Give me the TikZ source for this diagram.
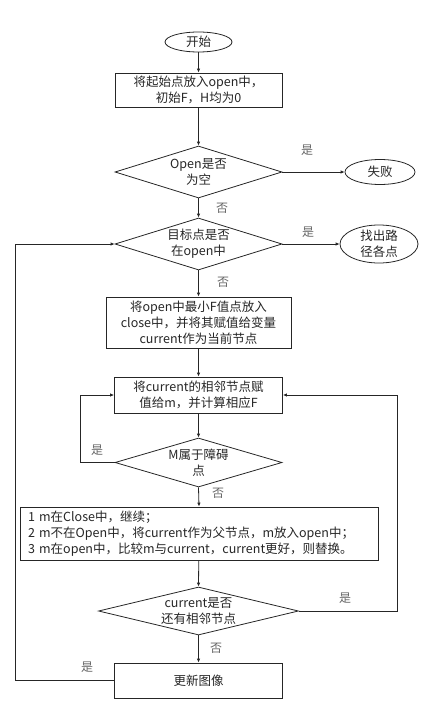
\documentclass[tikz,border=0pt]{standalone}
\usepackage{fontspec}
\setmainfont{Noto Sans CJK SC}
\usetikzlibrary{shapes.geometric,arrows.meta}
\tikzset{
  base/.style={draw=black!85, line width=0.8pt, text=black!85, font=\fontsize{12.5}{16}\selectfont, inner sep=0pt},
  term/.style={base, ellipse},
  procbox/.style={base, rectangle, align=center},
  decision/.style={base, diamond, align=center},
  conn/.style={draw=black!85, line width=0.8pt, -{Latex[length=4pt,width=3.5pt]}},
  yn/.style={text=black!60, font=\fontsize{12}{14}\selectfont, inner sep=0pt}
}
\begin{document}
\begin{tikzpicture}[x=1pt,y=-1pt]
\useasboundingbox (0,0) rectangle (429,706);
\node[term, minimum width=67pt, minimum height=20pt] (start) at (198.5,42) {开始};
\node[procbox, minimum width=167pt, minimum height=34pt] (b1) at (198.5,90) {将起始点放入open中，\\初始F，H均为0};
\node[decision, aspect=3.2, minimum width=167pt, minimum height=52pt] (d1) at (198.5,172) {Open是否\\为空};
\node[term, minimum width=70pt, minimum height=25pt] (fail) at (380,172) {失败};
\node[decision, aspect=3.2, minimum width=167pt, minimum height=52pt] (d2) at (198.5,244) {目标点是否\\在open中};
\node[term, minimum width=78pt, minimum height=38pt, label={[base, draw=none, align=center]center:找出路\\径各点}] (found) at (379,244) {};
\node[procbox, minimum width=185pt, minimum height=51pt] (b3) at (198.5,322.5) {将open中最小F值点放入\\close中，并将其赋值给变量\\current作为当前节点};
\node[procbox, minimum width=168pt, minimum height=36pt] (b4) at (198.5,395) {将current的相邻节点赋\\值给m，并计算相应F};
\node[decision, aspect=3.4, minimum width=167pt, minimum height=49pt] (d3) at (198.5,462.5) {M属于障碍\\点};
\node[base, rectangle, align=left, text width=342pt, inner xsep=8pt, minimum width=358pt, minimum height=53pt] (b5) at (199,533.5) {1 m在Close中，继续；\\2 m不在Open中，将current作为父节点，m放入open中；\\3 m在open中，比较m与current，current更好，则替换。};
\node[decision, aspect=4.17, minimum width=200pt, minimum height=48pt] (d4) at (198.5,611) {current是否\\还有相邻节点};
\node[procbox, minimum width=168pt, minimum height=35pt] (b6) at (198.5,680.5) {更新图像};
\coordinate (lx) at (80,0);
\coordinate (rx) at (397,0);
\coordinate (llx) at (15,0);
\draw[conn] (start) -- (b1);
\draw[conn] (b1) -- (d1);
\draw[conn] (d1.east) -- (fail.west);
\draw[conn] (d1.south) -- (d2.north);
\draw[conn] (d2.east) -- (found.west);
\draw[conn] (d2.south) -- (b3.north);
\draw[conn] (b3) -- (b4);
\draw[conn] (b4) -- (d3.north);
\draw[conn] (d3.west) -- (d3.west -| lx) |- (b4.west);
\draw[conn] (d3.south) -- (b5.north);
\draw[conn] (b5) -- (d4.north);
\draw[conn] (d4.east) -- (d4.east -| rx) |- (b4.east);
\draw[conn] (d4.south) -- (b6.north);
\draw[conn] (b6.west) -- (b6.west -| llx) |- (d2.west);
\node[yn] (y1) at (307,150) {是};
\node[yn] (n1) at (222,208) {否};
\node[yn] (y2) at (308,232) {是};
\node[yn] (n2) at (223,282) {否};
\node[yn] (y3) at (97,450) {是};
\node[yn] (n3) at (218,493) {否};
\node[yn] (y4) at (345,598) {是};
\node[yn] (n4) at (216,648) {否};
\node[yn] (y5) at (87,667) {是};
\end{tikzpicture}
\end{document}
